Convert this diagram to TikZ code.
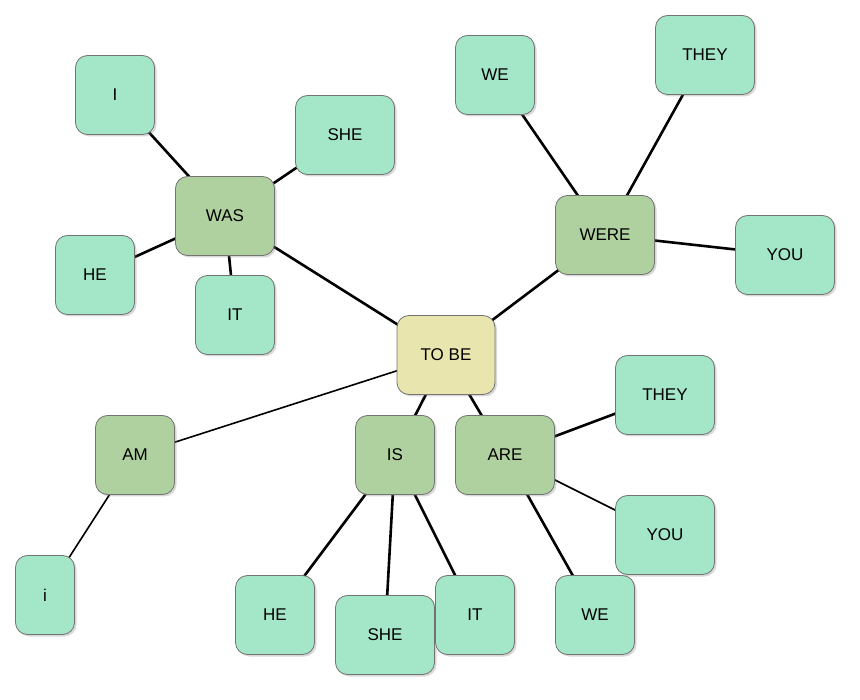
\documentclass[tikz,border=0pt]{standalone}
\usepackage{fontspec}
\setmainfont{Liberation Sans}
\usetikzlibrary{backgrounds,shadows}
\definecolor{leaf}{HTML}{A3E6C8}
\definecolor{mid}{HTML}{AFD19F}
\definecolor{root}{HTML}{E8E6AE}
\tikzset{
 bx/.style={draw=black!55,line width=0.8pt,rounded corners=12pt,minimum height=79pt,
  font=\fontsize{17}{20}\selectfont,drop shadow={shadow xshift=2pt,shadow yshift=-2pt,opacity=0.3}},
 lf/.style={bx,fill=leaf,minimum width=79pt},
 md/.style={bx,fill=mid,minimum width=99pt},
 wd/.style={lf,minimum width=99pt},
 ln/.style={line width=2.6pt},
 tn/.style={line width=1.6pt}
}
\begin{document}
\begin{tikzpicture}[x=1pt,y=-1pt]
\useasboundingbox (0,0) rectangle (860,700);
\node[bx,fill=root,minimum width=98pt] (tobe) at (446,355) {TO BE};
\node[md] (was) at (225,216) {WAS};
\node[lf] (i1) at (115,95) {I};
\node[wd] (she1) at (345,135) {SHE};
\node[lf] (he1) at (95,275) {HE};
\node[lf] (it1) at (235,315) {IT};
\node[md] (were) at (605,235) {WERE};
\node[lf] (we1) at (495,75) {WE};
\node[wd] (they1) at (705,55) {THEY};
\node[wd] (you1) at (785,255) {YOU};
\node[md,minimum width=79pt] (am) at (135,455) {AM};
\node[lf,minimum width=59pt] (i2) at (45,595) {i};
\node[md,minimum width=79pt] (is) at (395,455) {IS};
\node[lf] (he2) at (275,615) {HE};
\node[wd] (she2) at (385,635) {SHE};
\node[lf] (it2) at (475,615) {IT};
\node[md] (are) at (505,455) {ARE};
\node[wd] (they2) at (665,395) {THEY};
\node[wd] (you2) at (665,535) {YOU};
\node[lf] (we2) at (595,615) {WE};
\begin{scope}[on background layer]
\fill[white] (0,0) rectangle (860,700);
\draw[ln] (tobe.center)--(was.center); \draw[ln] (tobe.center)--(were.center);
\draw[tn] (tobe.center)--(am.center); \draw[ln] (tobe.center)--(is.center); \draw[ln] (tobe.center)--(are.center);
\draw[ln] (was.center)--(i1.center); \draw[ln] (was.center)--(she1.center); \draw[ln] (was.center)--(he1.center); \draw[ln] (was.center)--(it1.center);
\draw[ln] (were.center)--(we1.center); \draw[ln] (were.center)--(they1.center); \draw[ln] (were.center)--(you1.center);
\draw[tn] (am.center)--(i2.center);
\draw[ln] (is.center)--(he2.center); \draw[ln] (is.center)--(she2.center); \draw[ln] (is.center)--(it2.center);
\draw[ln] (are.center)--(they2.center); \draw[tn] (are.center)--(you2.center); \draw[ln] (are.center)--(we2.center);
\end{scope}
\end{tikzpicture}
\end{document}
